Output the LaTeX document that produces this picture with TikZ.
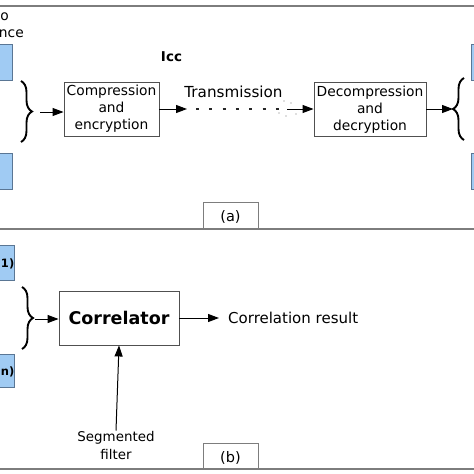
\documentclass[tikz,border=0pt]{standalone}
\usepackage{fontspec}
\setmainfont{DejaVu Sans}
\usetikzlibrary{arrows.meta,decorations.pathreplacing}
\definecolor{frameline}{RGB}{125,125,125}
\definecolor{boxline}{RGB}{80,80,80}
\definecolor{bluefill}{RGB}{160,203,243}
\definecolor{blueline}{RGB}{90,118,148}
\tikzset{
  proc/.style={draw=boxline, line width=0.9pt, minimum height=54pt, align=center, inner sep=0pt, font=\fontsize{13.8}{17}\selectfont},
  seq/.style={draw=blueline, fill=bluefill, line width=1pt, inner sep=0pt},
  frm/.style={draw=frameline, line width=1.3pt},
  arr/.style={-{Triangle[length=11pt,width=8pt]}, line width=1pt, draw=black},
  brc/.style={decorate, decoration={brace, amplitude=11pt}, line width=1.9pt},
  txt/.style={inner sep=0pt, font=\fontsize{13.8}{17}\selectfont},
}
\begin{document}
\begin{tikzpicture}[x=1pt,y=-1pt]
\path[use as bounding box, clip] (0,0) rectangle (474,474);
\fill[white] (0,0) rectangle (474,474);

% frame lines
\coordinate (f1l) at (-5,6);   \coordinate (f1r) at (480,6);
\coordinate (f2l) at (-5,229); \coordinate (f2r) at (480,229);
\coordinate (f3l) at (-5,469); \coordinate (f3r) at (480,469);
\draw[frm] (f1l) -- (f1r);
\draw[frm] (f2l) -- (f2r);
\draw[frm] (f3l) -- (f3r);

% tabs
\coordinate (ta1) at (203,229); \coordinate (ta2) at (203,202);
\coordinate (ta3) at (258,202); \coordinate (ta4) at (258,229);
\draw[frm, line width=1pt] (ta1) -- (ta2) -- (ta3) -- (ta4);
\node[txt, font=\fontsize{14.5}{17}\selectfont] (tabA) at (230.5,217) {(a)};
\coordinate (tb1) at (203,469); \coordinate (tb2) at (203,443);
\coordinate (tb3) at (258,443); \coordinate (tb4) at (258,469);
\draw[frm, line width=1pt] (tb1) -- (tb2) -- (tb3) -- (tb4);
\node[txt, font=\fontsize{14.5}{17}\selectfont] (tabB) at (230.5,458) {(b)};

% ---------- panel (a) ----------
\node[txt, anchor=base east] (vs1) at (9,20) {o};
\node[txt, anchor=base east] (vs2) at (24,37) {nce};

\node[seq, minimum width=20pt, minimum height=36pt] (v1) at (2,62) {};
\node[seq, minimum width=20pt, minimum height=36pt] (v2) at (2,171) {};
\node[seq, minimum width=20pt, minimum height=36pt] (w1) at (481,62) {};
\node[seq, minimum width=20pt, minimum height=36pt] (w2) at (481,171) {};

\node[txt, font=\bfseries\fontsize{13.5}{17}\selectfont] (icc) at (171.5,56.5) {Icc};

\coordinate (bA1) at (21,81); \coordinate (bA2) at (21,142);
\draw[brc] (bA1) -- (bA2);
\coordinate (aS) at (40,112);

\node[proc, minimum width=95pt] (comp) at (111.5,109) {Compression\\and\\encryption};
\node[proc, minimum width=112pt] (dec) at (370,109.5) {Decompression\\and\\decryption};

\draw[arr] (aS) -- (aS -| comp.west);

\node[txt, font=\fontsize{15.2}{17}\selectfont] (trans) at (233.5,92) {Transmission};
\coordinate (t1) at (187,109);
\coordinate (d1) at (196,109);
\coordinate (d2) at (282,109);
\coordinate (t2) at (287,109);
\draw[arr] (comp.east |- t1) -- (t1);
\draw[line width=2.6pt, black!85, dash pattern=on 3pt off 10.3pt] (d1) -- (d2);
\foreach \p in {(284,101),(291,103),(286,116),(296,114),(279,113)}
  \fill[black!25] \p circle (0.8pt);
\draw[arr] (t2) -- (t2 -| dec.west);

\coordinate (bB1) at (464,140); \coordinate (bB2) at (464,78);
\draw[brc] (bB1) -- (bB2);
\coordinate (bBtip) at (453,109);
\draw[arr] (dec.east |- bBtip) -- (bBtip);

% ---------- panel (b) ----------
\node[seq, minimum width=20pt, minimum height=35pt] (s1) at (4,262.5) {};
\node[seq, minimum width=20pt, minimum height=33pt] (s2) at (4,370.5) {};
\node[txt, anchor=base west, font=\bfseries\fontsize{11.5}{17}\selectfont] (s1t) at (0.8,267) {1)};
\node[txt, anchor=base west, font=\bfseries\fontsize{11.5}{17}\selectfont] (s2t) at (0.8,375) {n)};

\coordinate (bC1) at (22,287); \coordinate (bC2) at (22,349);
\draw[brc] (bC1) -- (bC2);
\coordinate (cS) at (35,319);

\node[proc, minimum width=120pt, font=\bfseries\fontsize{17.5}{20}\selectfont] (corr) at (119,318) {Correlator};
\draw[arr] (cS) -- (cS -| corr.west);

\node[txt, anchor=west, inner sep=5pt, font=\fontsize{15}{17}\selectfont] (res) at (223,318) {Correlation result};
\draw[arr, shorten >=4pt] (corr.east) -- (res.west);

\node[txt, align=center, font=\fontsize{13.4}{18}\selectfont] (seg) at (116,445) {Segmented\\filter};
\draw[arr] (seg.north) -- (corr.south);
\end{tikzpicture}
\end{document}
